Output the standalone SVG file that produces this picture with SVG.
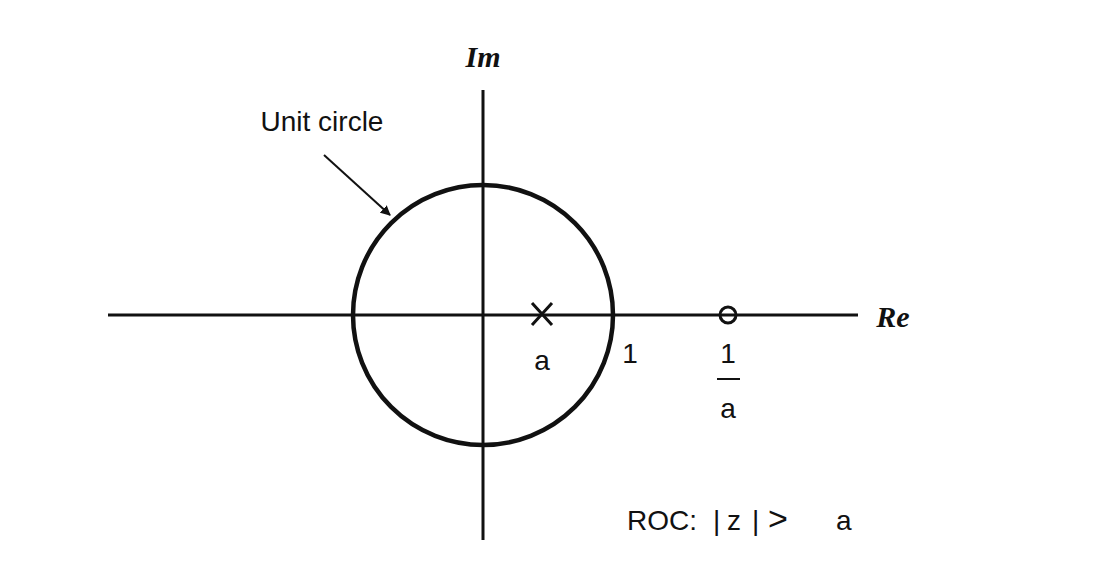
<svg xmlns="http://www.w3.org/2000/svg" width="1095" height="584" viewBox="0 0 1095 584">
<style>
.t{font-family:"Liberation Sans",Arial,sans-serif;font-size:28px;fill:#111}
.s{font-family:"Liberation Serif",serif;font-style:italic;font-weight:bold;font-size:30px;fill:#111}
.ln{stroke:#111;stroke-width:3;fill:none}
</style>
<defs><marker id="ah" markerWidth="10" markerHeight="10" refX="9" refY="5" orient="auto" markerUnits="userSpaceOnUse" viewBox="0 0 10 10"><path d="M0,0 L10,5 L0,10 z" fill="#111"/></marker></defs>
<rect width="1095" height="584" fill="#fff"/>
<g id="connectors">
<line class="ln" x1="108" y1="315" x2="858" y2="315"/>
<line class="ln" x1="483" y1="90" x2="483" y2="540"/>
<line x1="324" y1="155" x2="390" y2="215" stroke="#111" stroke-width="2" marker-end="url(#ah)"/>
</g>
<g id="unit-circle"><circle cx="483" cy="315" r="130" class="ln" style="stroke-width:4.5"/></g>
<g id="pole"><path class="ln" d="M532,303 L552,325 M552,303 L532,325"/><text class="t" x="542" y="370" text-anchor="middle">a</text></g>
<g id="one"><text class="t" x="630" y="363" text-anchor="middle">1</text></g>
<g id="zero"><circle cx="728" cy="315" r="8" class="ln"/><text class="t" x="728" y="363" text-anchor="middle">1</text><line class="ln" style="stroke-width:2" x1="717" y1="379" x2="740" y2="379"/><text class="t" x="728" y="418" text-anchor="middle">a</text></g>
<g id="labels">
<text class="s" x="893" y="327" text-anchor="middle">Re</text>
<text class="s" x="483" y="67" text-anchor="middle">Im</text>
<text class="t" x="322" y="131" text-anchor="middle">Unit circle</text>
<text class="t" y="530"><tspan x="627">ROC:</tspan><tspan x="713">|</tspan><tspan x="727">z</tspan><tspan x="752">|</tspan><tspan x="768" style="font-size:34px">&gt;</tspan><tspan x="836">a</tspan></text>
</g>
</svg>
